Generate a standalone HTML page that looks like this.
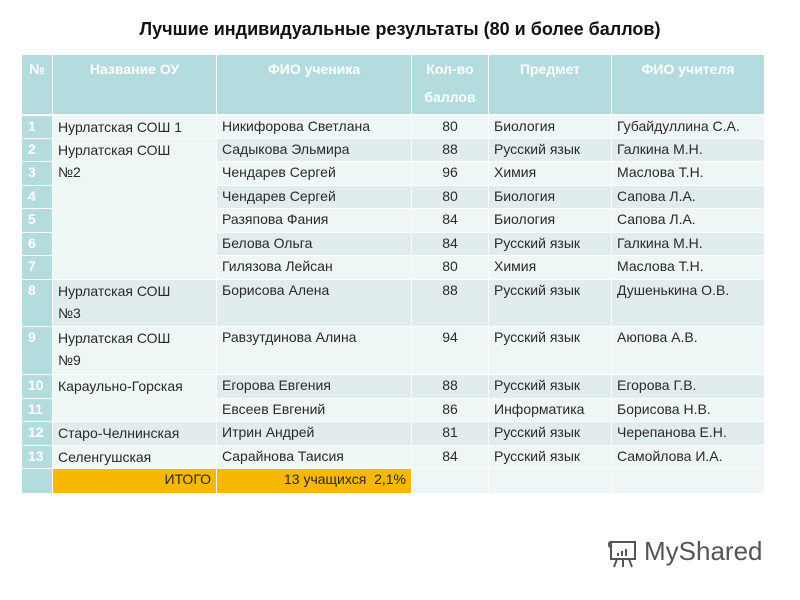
<!DOCTYPE html>
<html><head><meta charset="utf-8"><style>
body{margin:0;width:800px;height:600px;background:#fff;position:relative;overflow:hidden;font-family:"Liberation Sans","DejaVu Sans",sans-serif}
.c{position:absolute;box-sizing:border-box;font-size:14px;color:#2a2a2a;padding:0 5px;line-height:20px;white-space:nowrap;overflow:hidden}
.h{background:#b4dcdf;color:#fff;font-weight:bold;text-align:center;font-size:14px;line-height:28px;padding-top:0}
.n{background:#b4dcdf;color:#fff;font-weight:bold;padding-left:6px}
</style></head><body>
<div style="position:absolute;left:0;width:800px;top:19px;text-align:center;font-size:18px;font-weight:bold;color:#111">Лучшие индивидуальные результаты (80 и более баллов)</div>
<div id="t"></div>
<div style="position:absolute;left:608px;top:534px;width:160px;height:34px">
<svg width="30" height="34" viewBox="0 0 30 34" style="position:absolute;left:0;top:4px"><g fill="none" stroke="#555" stroke-width="2"><path d="M3 4h24v17H3z"/><path d="M3 4c-3 0-3 5 0 5"/><path d="M9 21l-3 8M15 21v8M21 21l3 8"/></g><g fill="#555"><rect x="9" y="15" width="2" height="3"/><rect x="13" y="13" width="2" height="5"/><rect x="17" y="11" width="2" height="7"/></g></svg>
<span style="position:absolute;left:36px;top:2px;font-size:26px;color:#555">MyShared</span></div>
<script>
const cols=[22,53,217,412,489,612,765];
const tops=[116,139,162,186,209,233,256,280,327,375,399,422,446,469,494];
const heads=["№","Название ОУ","ФИО ученика","Кол-во<br>баллов","Предмет","ФИО учителя"];
const schools=[["Нурлатская СОШ 1",0,1],["Нурлатская СОШ<br>№2",1,7],["Нурлатская СОШ<br>№3",7,8],["Нурлатская СОШ<br>№9",8,9],["Караульно-Горская",9,11],["Старо-Челнинская",11,12],["Селенгушская",12,13]];
const students=["Никифорова Светлана","Садыкова Эльмира","Чендарев Сергей","Чендарев Сергей","Разяпова Фания","Белова Ольга","Гилязова Лейсан","Борисова Алена","Равзутдинова Алина","Егорова Евгения","Евсеев Евгений","Итрин Андрей","Сарайнова Таисия"];
const scores=[80,88,96,80,84,84,80,88,94,88,86,81,84];
const subjects=["Биология","Русский язык","Химия","Биология","Биология","Русский язык","Химия","Русский язык","Русский язык","Русский язык","Информатика","Русский язык","Русский язык"];
const teachers=["Губайдуллина С.А.","Галкина М.Н.","Маслова Т.Н.","Сапова Л.А.","Сапова Л.А.","Галкина М.Н.","Маслова Т.Н.","Душенькина О.В.","Аюпова А.В.","Егорова Г.В.","Борисова Н.В.","Черепанова Е.Н.","Самойлова И.А."];
const T=document.getElementById('t');
function cell(x0,x1,y0,y1,html,cls,bg,name){const d=document.createElement('div');d.className='c '+(cls||'');d.style.left=x0+'px';d.style.width=(x1-x0-1)+'px';d.style.top=y0+'px';d.style.height=(y1-y0-1)+'px';if(bg)d.style.background=bg;d.innerHTML=html;


T.appendChild(d);return d;}
heads.forEach((h,i)=>cell(cols[i],cols[i+1],55,115,h,'h',null,'header-cell'));
const bgs=['#eef6f6','#e1eded'];
for(let r=0;r<13;r++){const y0=tops[r],y1=tops[r+1],bg=bgs[r%2];
cell(cols[0],cols[1],y0,y1,String(r+1),'n',null,'row-number');
cell(cols[2],cols[3],y0,y1,students[r],'',bg,'student-name');
const s=cell(cols[3],cols[4],y0,y1,String(scores[r]),'',bg,'score');s.style.textAlign='center';
cell(cols[4],cols[5],y0,y1,subjects[r],'',bg,'subject');
cell(cols[5],cols[6],y0,y1,teachers[r],'',bg,'teacher-name');}
schools.forEach(s=>{const c=cell(cols[1],cols[2],tops[s[1]],tops[s[2]],s[0],'',s[2]-s[1]>1?'#eef6f6':bgs[s[1]%2],'school-name');c.style.whiteSpace='normal';c.style.lineHeight='22px';c.style.paddingTop='0';});
const y0=tops[13],y1=tops[14];
cell(cols[0],cols[1],y0,y1,'','n',null,'total-number');
const a=cell(cols[1],cols[2],y0,y1,'ИТОГО','','#f9b800','total-label');a.style.textAlign='right';
const b=cell(cols[2],cols[3],y0,y1,'13 учащихся &nbsp;2,1%','','#f9b800','total-value');b.style.textAlign='right';
[3,4,5].forEach(i=>cell(cols[i],cols[i+1],y0,y1,'','','#eef6f6','total-empty'));
</script>
</body></html>
